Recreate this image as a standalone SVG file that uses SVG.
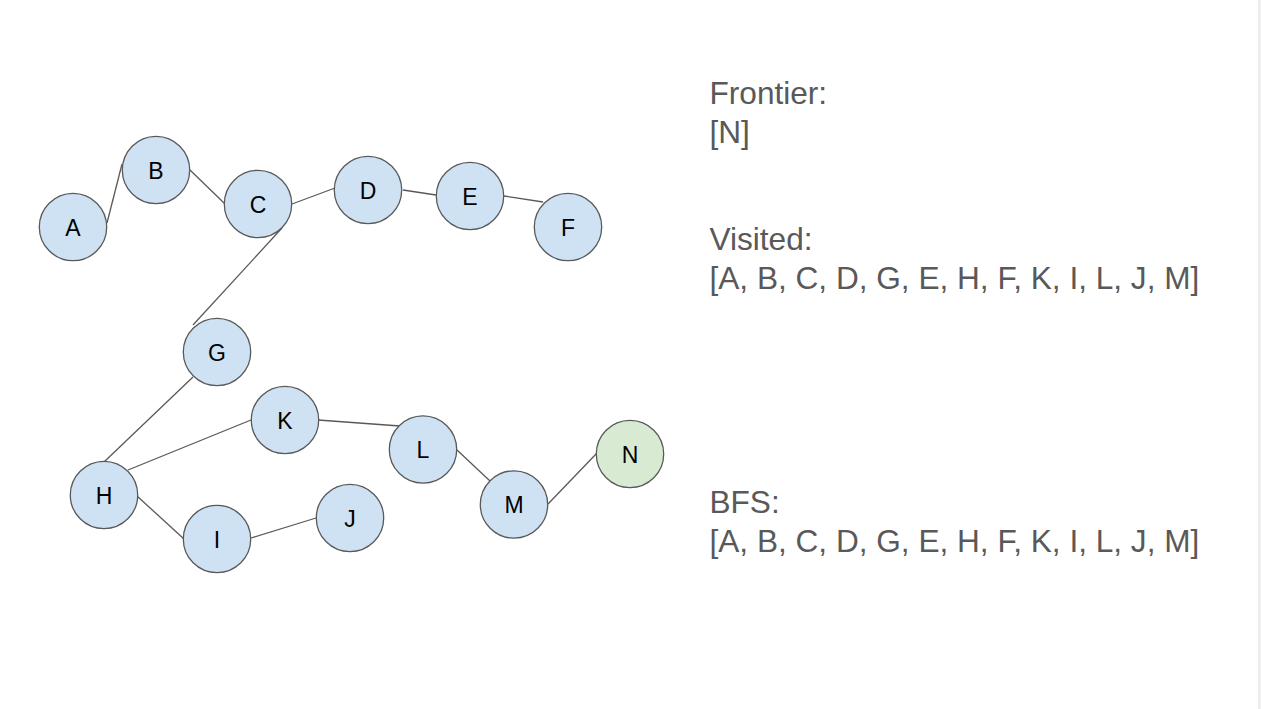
<svg xmlns="http://www.w3.org/2000/svg" width="1261" height="709" viewBox="0 0 1261 709">
<style>
.node circle{fill:#cfe2f3;stroke:#595959;stroke-width:1.3}
.node.goal circle{fill:#d9ead3}
.node text{font-family:"Liberation Sans",Arial,sans-serif;font-size:23px;fill:#000;text-anchor:middle}
.edges line{stroke:#595959;stroke-width:1.3}
.info{font-family:"Liberation Sans",Arial,sans-serif;font-size:31.6px;fill:#595959}
</style>
<rect width="1261" height="709" fill="#ffffff"/>
<rect x="1258" y="0" width="3" height="709" fill="#eeeeee"/>
<g id="connectors" class="edges">
<line x1="107" y1="223" x2="122" y2="164"/>
<line x1="190" y1="170" x2="224" y2="203"/>
<line x1="292" y1="204" x2="335" y2="188"/>
<line x1="282" y1="228" x2="193" y2="325"/>
<line x1="403" y1="190" x2="436" y2="195"/>
<line x1="504" y1="196" x2="543" y2="202"/>
<line x1="193" y1="377" x2="104" y2="462"/>
<line x1="128" y1="470" x2="251" y2="420"/>
<line x1="137" y1="496" x2="184" y2="539"/>
<line x1="251" y1="538" x2="316" y2="518"/>
<line x1="318" y1="420" x2="400" y2="426"/>
<line x1="457" y1="450" x2="490" y2="481"/>
<line x1="548" y1="504" x2="597" y2="453"/>
</g>
<g id="node-A" class="node"><circle cx="73" cy="227" r="33.7"/><text x="73" y="235.5">A</text></g>
<g id="node-B" class="node"><circle cx="156" cy="170" r="33.7"/><text x="156" y="178.5">B</text></g>
<g id="node-C" class="node"><circle cx="258" cy="204" r="33.7"/><text x="258" y="212.5">C</text></g>
<g id="node-D" class="node"><circle cx="368" cy="190" r="33.7"/><text x="368" y="198.5">D</text></g>
<g id="node-E" class="node"><circle cx="470" cy="196" r="33.7"/><text x="470" y="204.5">E</text></g>
<g id="node-F" class="node"><circle cx="568" cy="227" r="33.7"/><text x="568" y="235.5">F</text></g>
<g id="node-G" class="node"><circle cx="217" cy="352" r="33.7"/><text x="217" y="360.5">G</text></g>
<g id="node-H" class="node"><circle cx="104" cy="495" r="33.7"/><text x="104" y="503.5">H</text></g>
<g id="node-I" class="node"><circle cx="217" cy="539" r="33.7"/><text x="217" y="547.5">I</text></g>
<g id="node-J" class="node"><circle cx="350" cy="518" r="33.7"/><text x="350" y="526.5">J</text></g>
<g id="node-K" class="node"><circle cx="285" cy="420" r="33.7"/><text x="285" y="428.5">K</text></g>
<g id="node-L" class="node"><circle cx="423" cy="449.5" r="33.7"/><text x="423" y="458">L</text></g>
<g id="node-M" class="node"><circle cx="514" cy="504.5" r="33.7"/><text x="514" y="513">M</text></g>
<g id="node-N" class="node goal"><circle cx="630" cy="454" r="33.7"/><text x="630" y="462.5">N</text></g>
<g id="frontier">
<text class="info" x="709.5" y="104">Frontier:</text>
<text class="info" x="709.5" y="142.5">[N]</text>
</g>
<g id="visited">
<text class="info" x="709.5" y="250">Visited:</text>
<text class="info" x="709.5" y="288.5">[A, B, C, D, G, E, H, F, K, I, L, J, M]</text>
</g>
<g id="bfs">
<text class="info" x="709.5" y="513">BFS:</text>
<text class="info" x="709.5" y="551.5">[A, B, C, D, G, E, H, F, K, I, L, J, M]</text>
</g>
</svg>
